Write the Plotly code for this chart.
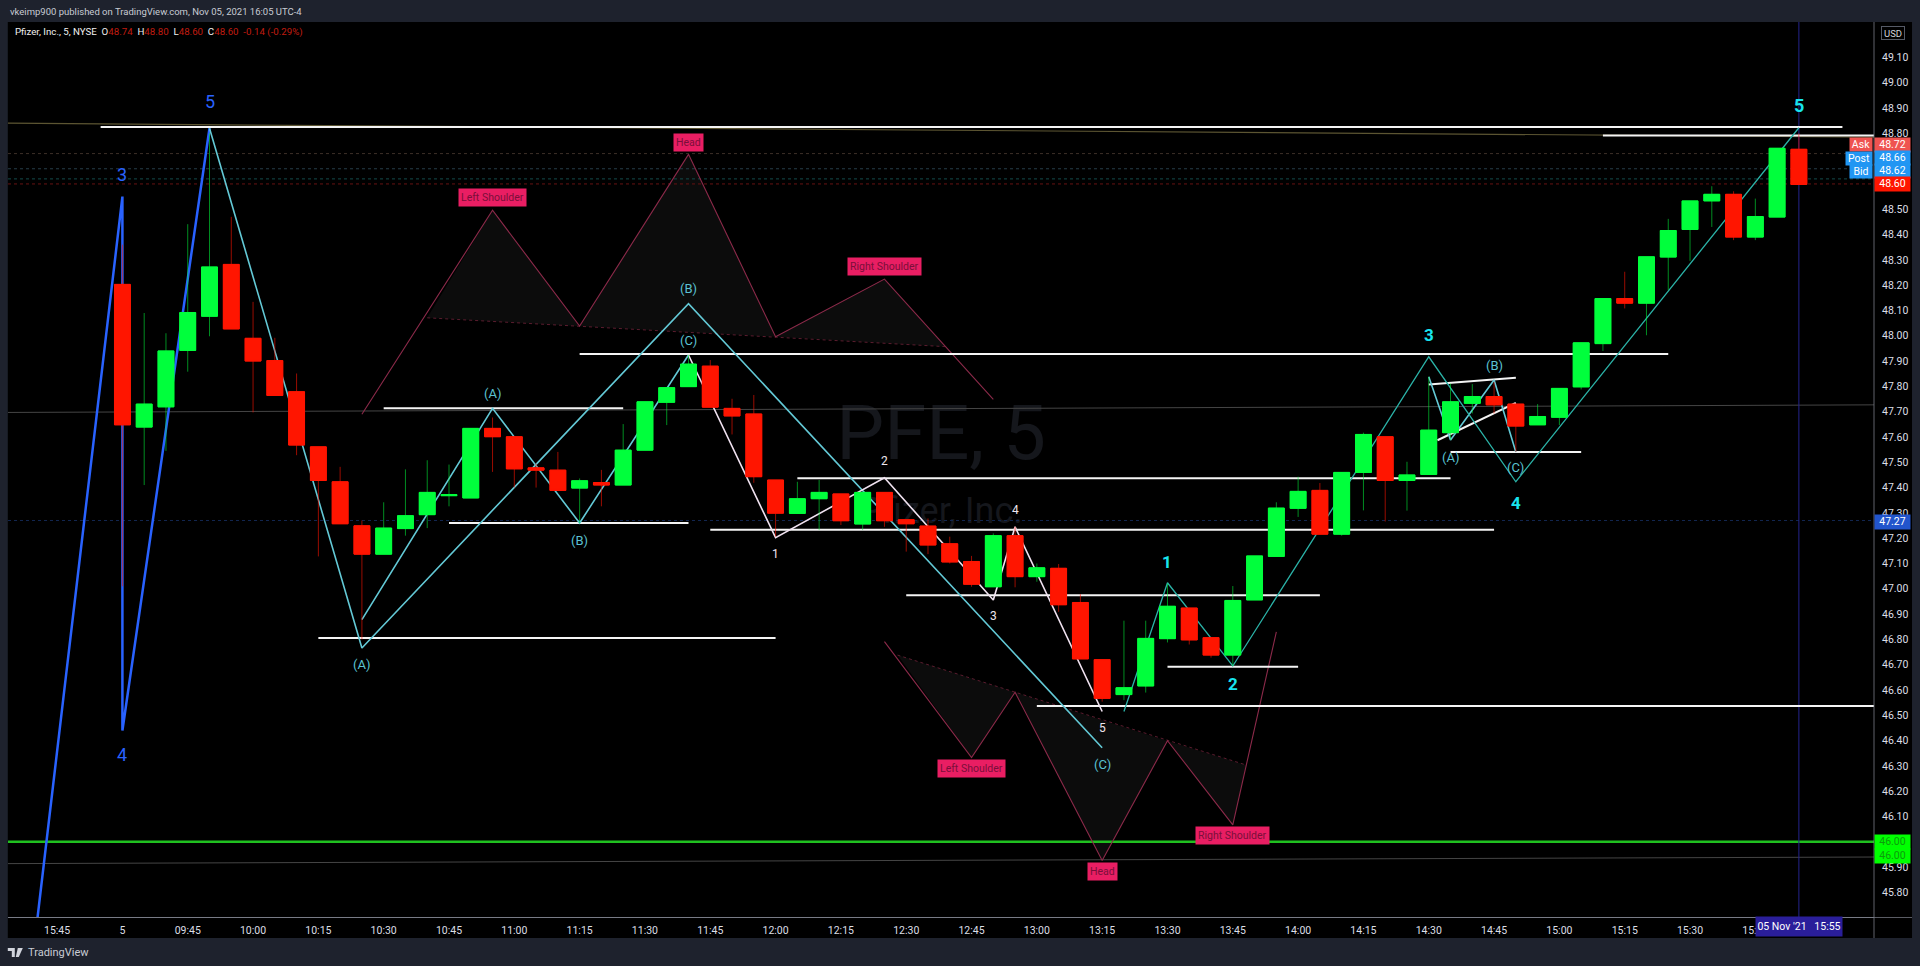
import plotly.graph_objects as go

# ---------- data ----------
bars = list(range(78))
opens = [48.203,47.639,47.719,47.942,48.077,48.282,47.99,47.902,47.779,47.561,47.423,47.249,47.137,47.238,47.293,47.368,47.359,47.634,47.601,47.478,47.469,47.398,47.42,47.41,47.548,47.737,47.799,47.880,47.713,47.691,47.430,47.298,47.356,47.375,47.256,47.381,47.273,47.248,47.178,47.108,47.008,47.210,47.048,47.081,46.946,46.720,46.582,46.616,46.803,46.924,46.807,46.738,46.956,47.128,47.318,47.389,47.216,47.46,47.601,47.428,47.452,47.617,47.733,47.760,47.730,47.648,47.678,47.798,47.969,48.147,48.129,48.311,48.42,48.533,48.559,48.39,48.469,48.737]
highs = [48.36,48.09,48.01,48.441,48.80,48.470,48.134,47.992,47.851,47.561,47.482,47.27,47.342,47.472,47.508,47.491,47.634,47.677,47.601,47.495,47.541,47.436,47.47,47.651,47.739,47.795,47.924,47.904,47.751,47.766,47.430,47.423,47.430,47.375,47.381,47.381,47.273,47.278,47.206,47.13,47.219,47.245,47.10,47.098,46.979,46.720,46.874,46.874,47.02,46.924,46.807,47.011,47.130,47.342,47.443,47.418,47.46,47.617,47.601,47.502,47.838,47.811,47.809,47.818,47.730,47.730,47.792,47.972,48.147,48.253,48.312,48.462,48.533,48.591,48.571,48.542,48.741,48.80]
lows = [47.01,47.41,47.545,47.858,47.998,48.027,47.697,47.764,47.528,47.128,47.257,46.80,47.137,47.21,47.24,47.326,47.359,47.462,47.40,47.40,47.389,47.26,47.326,47.41,47.548,47.647,47.799,47.718,47.610,47.419,47.206,47.298,47.232,47.252,47.232,47.245,47.147,47.137,47.10,47.008,47.008,47.006,47.028,46.909,46.723,46.554,46.56,46.590,46.788,46.78,46.728,46.695,46.956,47.128,47.284,47.216,47.21,47.31,47.266,47.309,47.452,47.588,47.693,47.693,47.541,47.648,47.647,47.788,47.94,48.108,48.002,48.18,48.296,48.43,48.378,48.378,48.469,48.598]
closes = [47.648,47.730,47.940,48.092,48.272,48.027,47.90,47.764,47.568,47.428,47.257,47.137,47.240,47.289,47.381,47.372,47.634,47.601,47.474,47.469,47.389,47.427,47.41,47.548,47.739,47.795,47.888,47.718,47.683,47.443,47.299,47.356,47.381,47.269,47.381,47.269,47.257,47.173,47.106,47.018,47.210,47.048,47.083,46.937,46.723,46.567,46.609,46.804,46.931,46.798,46.738,46.954,47.130,47.319,47.385,47.216,47.46,47.610,47.428,47.450,47.627,47.739,47.760,47.727,47.643,47.681,47.792,47.972,48.147,48.129,48.312,48.416,48.533,48.559,48.39,48.471,48.741,48.598]

x_ticks = [-3] + list(range(0, 76, 3))
x_labels = ["15:45","5","09:45","10:00","10:15","10:30","10:45","11:00","11:15","11:30","11:45","12:00","12:15","12:30","12:45","13:00","13:15","13:30","13:45","14:00","14:15","14:30","14:45","15:00","15:15","15:30","15:45"]
y_ticks = [45.8,45.9,46.0,46.1,46.2,46.3,46.4,46.5,46.6,46.7,46.8,46.9,47.0,47.1,47.2,47.3,47.4,47.5,47.6,47.7,47.8,47.9,48.0,48.1,48.2,48.3,48.4,48.5,48.6,48.7,48.8,48.9,49.0,49.1]

blue_x = [-3.9, 0, 0, 4]
blue_y = [45.70, 48.55, 46.44, 48.82]
cyan1_x = [4, 11, 26, 45]
cyan1_y = [48.82, 46.766, 48.127, 46.372]
cyan2_x = [11, 17, 21, 26]
cyan2_y = [46.878, 47.713, 47.26, 47.924]
cyan3_x = [60, 61, 63, 64]
cyan3_y = [47.838, 47.588, 47.825, 47.541]
white_wave_x = [26, 30, 35, 40, 41, 45]
white_wave_y = [47.924, 47.202, 47.439, 46.956, 47.245, 46.515]
teal_wave_x = [46, 48, 51, 60, 64, 77]
teal_wave_y = [46.515, 47.024, 46.695, 47.917, 47.423, 48.822]

white_seg_x0 = [-1, 68, 12, 15, 9, 21, 31, 27, 36, 48, 42, 60, 60.4, 61]
white_seg_x1 = [79, 80.45, 23, 26, 30, 71, 61, 63, 55, 54, 80.45, 64, 64, 67]
white_seg_y0 = [48.825, 48.791, 47.714, 47.26, 46.806, 47.928, 47.437, 47.233, 46.975, 46.692, 46.537, 47.807, 47.587, 47.541]
white_seg_y1 = [48.825, 48.791, 47.714, 47.26, 46.806, 47.928, 47.437, 47.233, 46.975, 46.692, 46.537, 47.834, 47.735, 47.541]

hs_top_x = [11, 17, 21, 26, 30, 35, 40]
hs_top_y = [47.69, 48.496, 48.038, 48.717, 47.996, 48.224, 47.749]
neck_top_x = [14, 21, 30, 37.8]
neck_top_y = [48.071, 48.038, 47.996, 47.957]
hs_bot_x = [35, 39, 41, 45, 48, 51, 53]
hs_bot_y = [46.791, 46.333, 46.591, 45.926, 46.40, 46.067, 46.83]
neck_bot_x = [35.6, 41, 48, 51.6]
neck_bot_y = [46.738, 46.591, 46.399, 46.304]
fill_top_x = [14, 17, 21, 14, None, 21, 26, 30, 21, None, 30, 35, 37.8, 30]
fill_top_y = [48.071, 48.496, 48.038, 48.071, None, 48.038, 48.717, 47.996, 48.038, None, 47.996, 48.224, 47.957, 47.996]
fill_bot_x = [35.6, 39, 41, 35.6, None, 41, 45, 48, 41, None, 48, 51, 51.6, 48]
fill_bot_y = [46.738, 46.333, 46.591, 46.738, None, 46.591, 45.926, 46.399, 46.591, None, 46.399, 46.067, 46.304, 46.399]

left_edge = -5.255
right_edge = 80.45
y_low, y_high = 45.703, 49.24
olive_y = [48.84, 48.785]
gray_mid_y = [47.697, 47.727]
gray_low_y = [45.914, 45.94]
green_level = 46.00
dotted_prices = [48.72, 48.66, 48.62, 48.60, 47.27]
dotted_colors = ["#3c2f28", "#263c48", "#134a4a", "#661212", "#122650"]
cursor_bar = 77

wave_labels = [
    ("3", 0, 48.638, "#2962ff", 18), ("5", 4, 48.924, "#2962ff", 18), ("4", 0, 46.344, "#2962ff", 18),
    ("(A)", 11, 46.702, "#5bc2d2", 13), ("(A)", 17, 47.773, "#5bc2d2", 13), ("(B)", 21, 47.19, "#5bc2d2", 13),
    ("(B)", 26, 48.188, "#5bc2d2", 13), ("(C)", 26, 47.983, "#5bc2d2", 13), ("(C)", 45, 46.307, "#5bc2d2", 13),
    ("(A)", 61, 47.52, "#5bc2d2", 13), ("(B)", 63, 47.884, "#5bc2d2", 13), ("(C)", 64, 47.481, "#5bc2d2", 13),
    ("1", 30, 47.137, "#eee6ee", 12), ("2", 35, 47.505, "#eee6ee", 12), ("3", 40, 46.892, "#eee6ee", 12),
    ("4", 41, 47.311, "#eee6ee", 12), ("5", 45, 46.451, "#eee6ee", 12),
    ("<b>1</b>", 48, 47.106, "#18e4ee", 17), ("<b>2</b>", 51, 46.624, "#18e4ee", 17), ("<b>3</b>", 60, 48.002, "#18e4ee", 17),
    ("<b>4</b>", 64, 47.339, "#18e4ee", 17), ("<b>5</b>", 77, 48.911, "#18e4ee", 18),
]
pink_labels = [
    ("Left Shoulder", 17, 48.548), ("Head", 26, 48.762), ("Right Shoulder", 35, 48.272),
    ("Left Shoulder", 39, 46.289), ("Head", 45, 45.882), ("Right Shoulder", 51, 46.027),
]
price_tags = [
    ("48.72", 48.755, "#ef5350", "#ffffff"), ("48.66", 48.702, "#2196f3", "#ffffff"),
    ("48.62", 48.65, "#2196f3", "#ffffff"), ("48.60", 48.60, "#ff1500", "#ffffff"),
    ("47.27", 47.266, "#2255cc", "#ffffff"), ("46.00", 46.00, "#00ff00", "#0c9c0c"),
    ("46.00", 45.945, "#00ff00", "#0c9c0c"),
]
side_tags = [("Ask", 48.755, "#ef5350", 22), ("Post", 48.702, "#2196f3", 26), ("Bid", 48.65, "#2196f3", 22)]

# ---------- page geometry ----------
W, H = 1920, 966
L, R, T, B = 8.2, 1874.0, 21.7, 917.0
FONT = "Roboto"
def fx(px): return (px - L) / (R - L)
def fy(px): return (B - px) / (B - T)

fig = go.Figure()

def add_line(x, y, color, width, dash="solid"):
    fig.add_trace(go.Scatter(x=x, y=y, mode="lines", hoverinfo="skip", showlegend=False,
                             line=dict(color=color, width=width, dash=dash)))

# watermark sits under everything
fig.add_trace(go.Scatter(x=[37.6], y=[47.59], mode="text", text=["PFE, 5"], hoverinfo="skip", showlegend=False,
                         textfont=dict(family=FONT, size=76, color="#15171c")))
fig.add_trace(go.Scatter(x=[37.6], y=[47.295], mode="text", text=["Pfizer, Inc."], hoverinfo="skip", showlegend=False,
                         textfont=dict(family=FONT, size=36, color="#15171c")))

for fx_, fy_ in ((fill_top_x, fill_top_y), (fill_bot_x, fill_bot_y)):
    fig.add_trace(go.Scatter(x=fx_, y=fy_, mode="lines", fill="toself", fillcolor="#0c0c0c",
                             line=dict(width=0), hoverinfo="skip", showlegend=False))

for price, col in zip(dotted_prices, dotted_colors):
    add_line([left_edge, right_edge], [price, price], col, 1, "dot")
add_line([left_edge, right_edge], olive_y, "#5c5532", 1.2)
add_line([left_edge, right_edge], gray_mid_y, "#454545", 1)
add_line([left_edge, right_edge], gray_low_y, "#454545", 1)
add_line([left_edge, right_edge], [green_level, green_level], "#20c020", 2.5)
add_line([cursor_bar, cursor_bar], [y_low, y_high], "#24248c", 1)

add_line(neck_top_x, neck_top_y, "#5a1c2e", 1, "dot")
add_line(neck_bot_x, neck_bot_y, "#5a1c2e", 1, "dot")
add_line(hs_top_x, hs_top_y, "#8c2a4a", 1.1)
add_line(hs_bot_x, hs_bot_y, "#8c2a4a", 1.1)

for x0, x1, y0, y1 in zip(white_seg_x0, white_seg_x1, white_seg_y0, white_seg_y1):
    add_line([x0, x1], [y0, y1], "#f4f4f4", 2)

add_line(blue_x, blue_y, "#2962ff", 2.5)
add_line(cyan1_x, cyan1_y, "#63c9d6", 1.6)
add_line(cyan2_x, cyan2_y, "#63c9d6", 1.6)
add_line(cyan3_x, cyan3_y, "#63c9d6", 1.6)
add_line(white_wave_x, white_wave_y, "#f0e2f0", 1.6)
add_line(teal_wave_x, teal_wave_y, "#2bb3a8", 1.3)

# candles live on an overlaying y axis so that they are painted over the drawings
fig.add_trace(go.Candlestick(x=bars, open=opens, high=highs, low=lows, close=closes, whiskerwidth=0, yaxis="y2",
    increasing=dict(line=dict(color="rgba(0,255,60,0.55)", width=1), fillcolor="#00ff3c"),
    decreasing=dict(line=dict(color="rgba(255,20,0,0.6)", width=1), fillcolor="#ff1500"),
    hoverinfo="skip", showlegend=False))
fig.add_trace(go.Candlestick(x=bars, open=opens, close=closes, yaxis="y2",
    high=[max(a, b) for a, b in zip(opens, closes)], low=[min(a, b) for a, b in zip(opens, closes)], whiskerwidth=0,
    increasing=dict(line=dict(color="#00ff3c", width=1), fillcolor="#00ff3c"),
    decreasing=dict(line=dict(color="#ff1500", width=1), fillcolor="#ff1500"),
    hoverinfo="skip", showlegend=False))

ann = []
for text, x, y, col, size in wave_labels:
    ann.append(dict(x=x, y=y, xref="x", yref="y", text=text, showarrow=False, font=dict(family=FONT, size=size, color=col)))
for text, x, y in pink_labels:
    ann.append(dict(x=x, y=y, xref="x", yref="y", text=text, showarrow=False, bgcolor="#e91e63", borderpad=2,
                    font=dict(family=FONT, size=10.5, color="#7a0f3a")))
for text, y, bg, col in price_tags:
    ann.append(dict(x=fx(1874), y=y, xref="paper", yref="y", xanchor="left", yanchor="middle", text=text, showarrow=False,
                    width=35, height=13.5, bgcolor=bg, borderpad=0, align="center",
                    font=dict(family=FONT, size=10.5, color=col)))
for text, y, bg, w in side_tags:
    ann.append(dict(x=fx(1872.6), y=y, xref="paper", yref="y", xanchor="right", yanchor="middle", text=text, showarrow=False,
                    width=w, height=13, bgcolor=bg, borderpad=0, align="center",
                    font=dict(family=FONT, size=10.5, color="#ffffff")))
ann.append(dict(x=cursor_bar, y=fy(926.5), xref="x", yref="paper", xanchor="center", yanchor="middle",
                text="05 Nov '21   15:55", showarrow=False,
                width=86, height=19, bgcolor="#2a1e9a", borderpad=0, font=dict(family=FONT, size=10.5, color="#ffffff")))
ann.append(dict(x=fx(1893), y=fy(32.7), xref="paper", yref="paper", xanchor="center", yanchor="middle", text="USD",
                showarrow=False, width=22, height=12,
                bordercolor="#555a66", borderwidth=1, borderpad=0, font=dict(family=FONT, size=9.5, color="#d1d4dc")))
ann.append(dict(x=fx(8), y=fy(11.5), xref="paper", yref="paper", xanchor="left", yanchor="middle", showarrow=False,
                text="vkeimp900 published on TradingView.com, Nov 05, 2021 16:05 UTC-4",
                font=dict(family=FONT, size=9.5, color="#c8ccd4")))
red = "#c01c10"
legend_text = ("Pfizer, Inc., 5, NYSE  O<span style='color:%s'>48.74</span>  H<span style='color:%s'>48.80</span>  "
               "L<span style='color:%s'>48.60</span>  C<span style='color:%s'>48.60</span>  "
               "<span style='color:%s'>-0.14 (-0.29%%)</span>") % (red, red, red, red, red)
ann.append(dict(x=fx(13), y=fy(32), xref="paper", yref="paper", xanchor="left", yanchor="middle", showarrow=False, text=legend_text,
                font=dict(family=FONT, size=9.7, color="#f0f0f0")))
ann.append(dict(x=fx(26), y=fy(952.3), xref="paper", yref="paper", xanchor="left", yanchor="middle", showarrow=False, text="TradingView",
                font=dict(family=FONT, size=11, color="#c8ccd4")))

def pshape(px0, py0, px1, py1, color, layer="below"):
    return dict(type="rect", xref="paper", yref="paper", x0=fx(px0), x1=fx(px1), y0=fy(py1), y1=fy(py0),
                fillcolor=color, line=dict(width=0), layer=layer)

def ppath(points, color):
    d = "M " + " L ".join("%.5f,%.5f" % (fx(a), fy(b)) for a, b in points) + " Z"
    return dict(type="path", xref="paper", yref="paper", path=d, fillcolor=color, line=dict(width=0), layer="above")

shapes = [
    pshape(8, 21.7, 1912, 938, "#000000"),
    pshape(1874, 917, 1912, 917.8, "#787b86", "above"),
    pshape(1873.6, 21.7, 1874.4, 938, "#787b86", "above"),
    ppath([(8, 948), (15, 948), (15, 957), (12, 957), (12, 951), (8, 951)], "#d1d4dc"),
    ppath([(18, 948), (23, 948), (19, 957), (16, 957)], "#d1d4dc"),
]

fig.update_layout(
    width=W, height=H, autosize=False, margin=dict(l=L, r=W - R, t=T, b=H - B, pad=0),
    paper_bgcolor="#1e222d", plot_bgcolor="#000000", showlegend=False,
    boxmode="overlay", boxgap=0.27, boxgroupgap=0,
    annotations=ann, shapes=shapes,
    font=dict(family=FONT, color="#d1d4dc", size=11),
    xaxis=dict(range=[left_edge, right_edge], tickmode="array", tickvals=x_ticks, ticktext=x_labels,
               showgrid=False, zeroline=False, showline=True, linecolor="#787b86", linewidth=1, ticks="",
               rangeslider=dict(visible=False), tickfont=dict(family=FONT, size=10.5, color="#dcdfe6"), ticklabelstandoff=3),
    yaxis=dict(range=[y_low, y_high], side="right", tickmode="array", tickvals=y_ticks,
               ticktext=["%.2f" % v for v in y_ticks],
               showgrid=False, zeroline=False, showline=False, ticks="",
               tickfont=dict(family=FONT, size=10.5, color="#dcdfe6"), ticklabelstandoff=7),
    yaxis2=dict(range=[y_low, y_high], overlaying="y", side="right", visible=False),
)

fig.write_html("out.html", config=dict(displayModeBar=False),
               post_script="document.body.style.margin='0';document.body.style.overflow='hidden';")
